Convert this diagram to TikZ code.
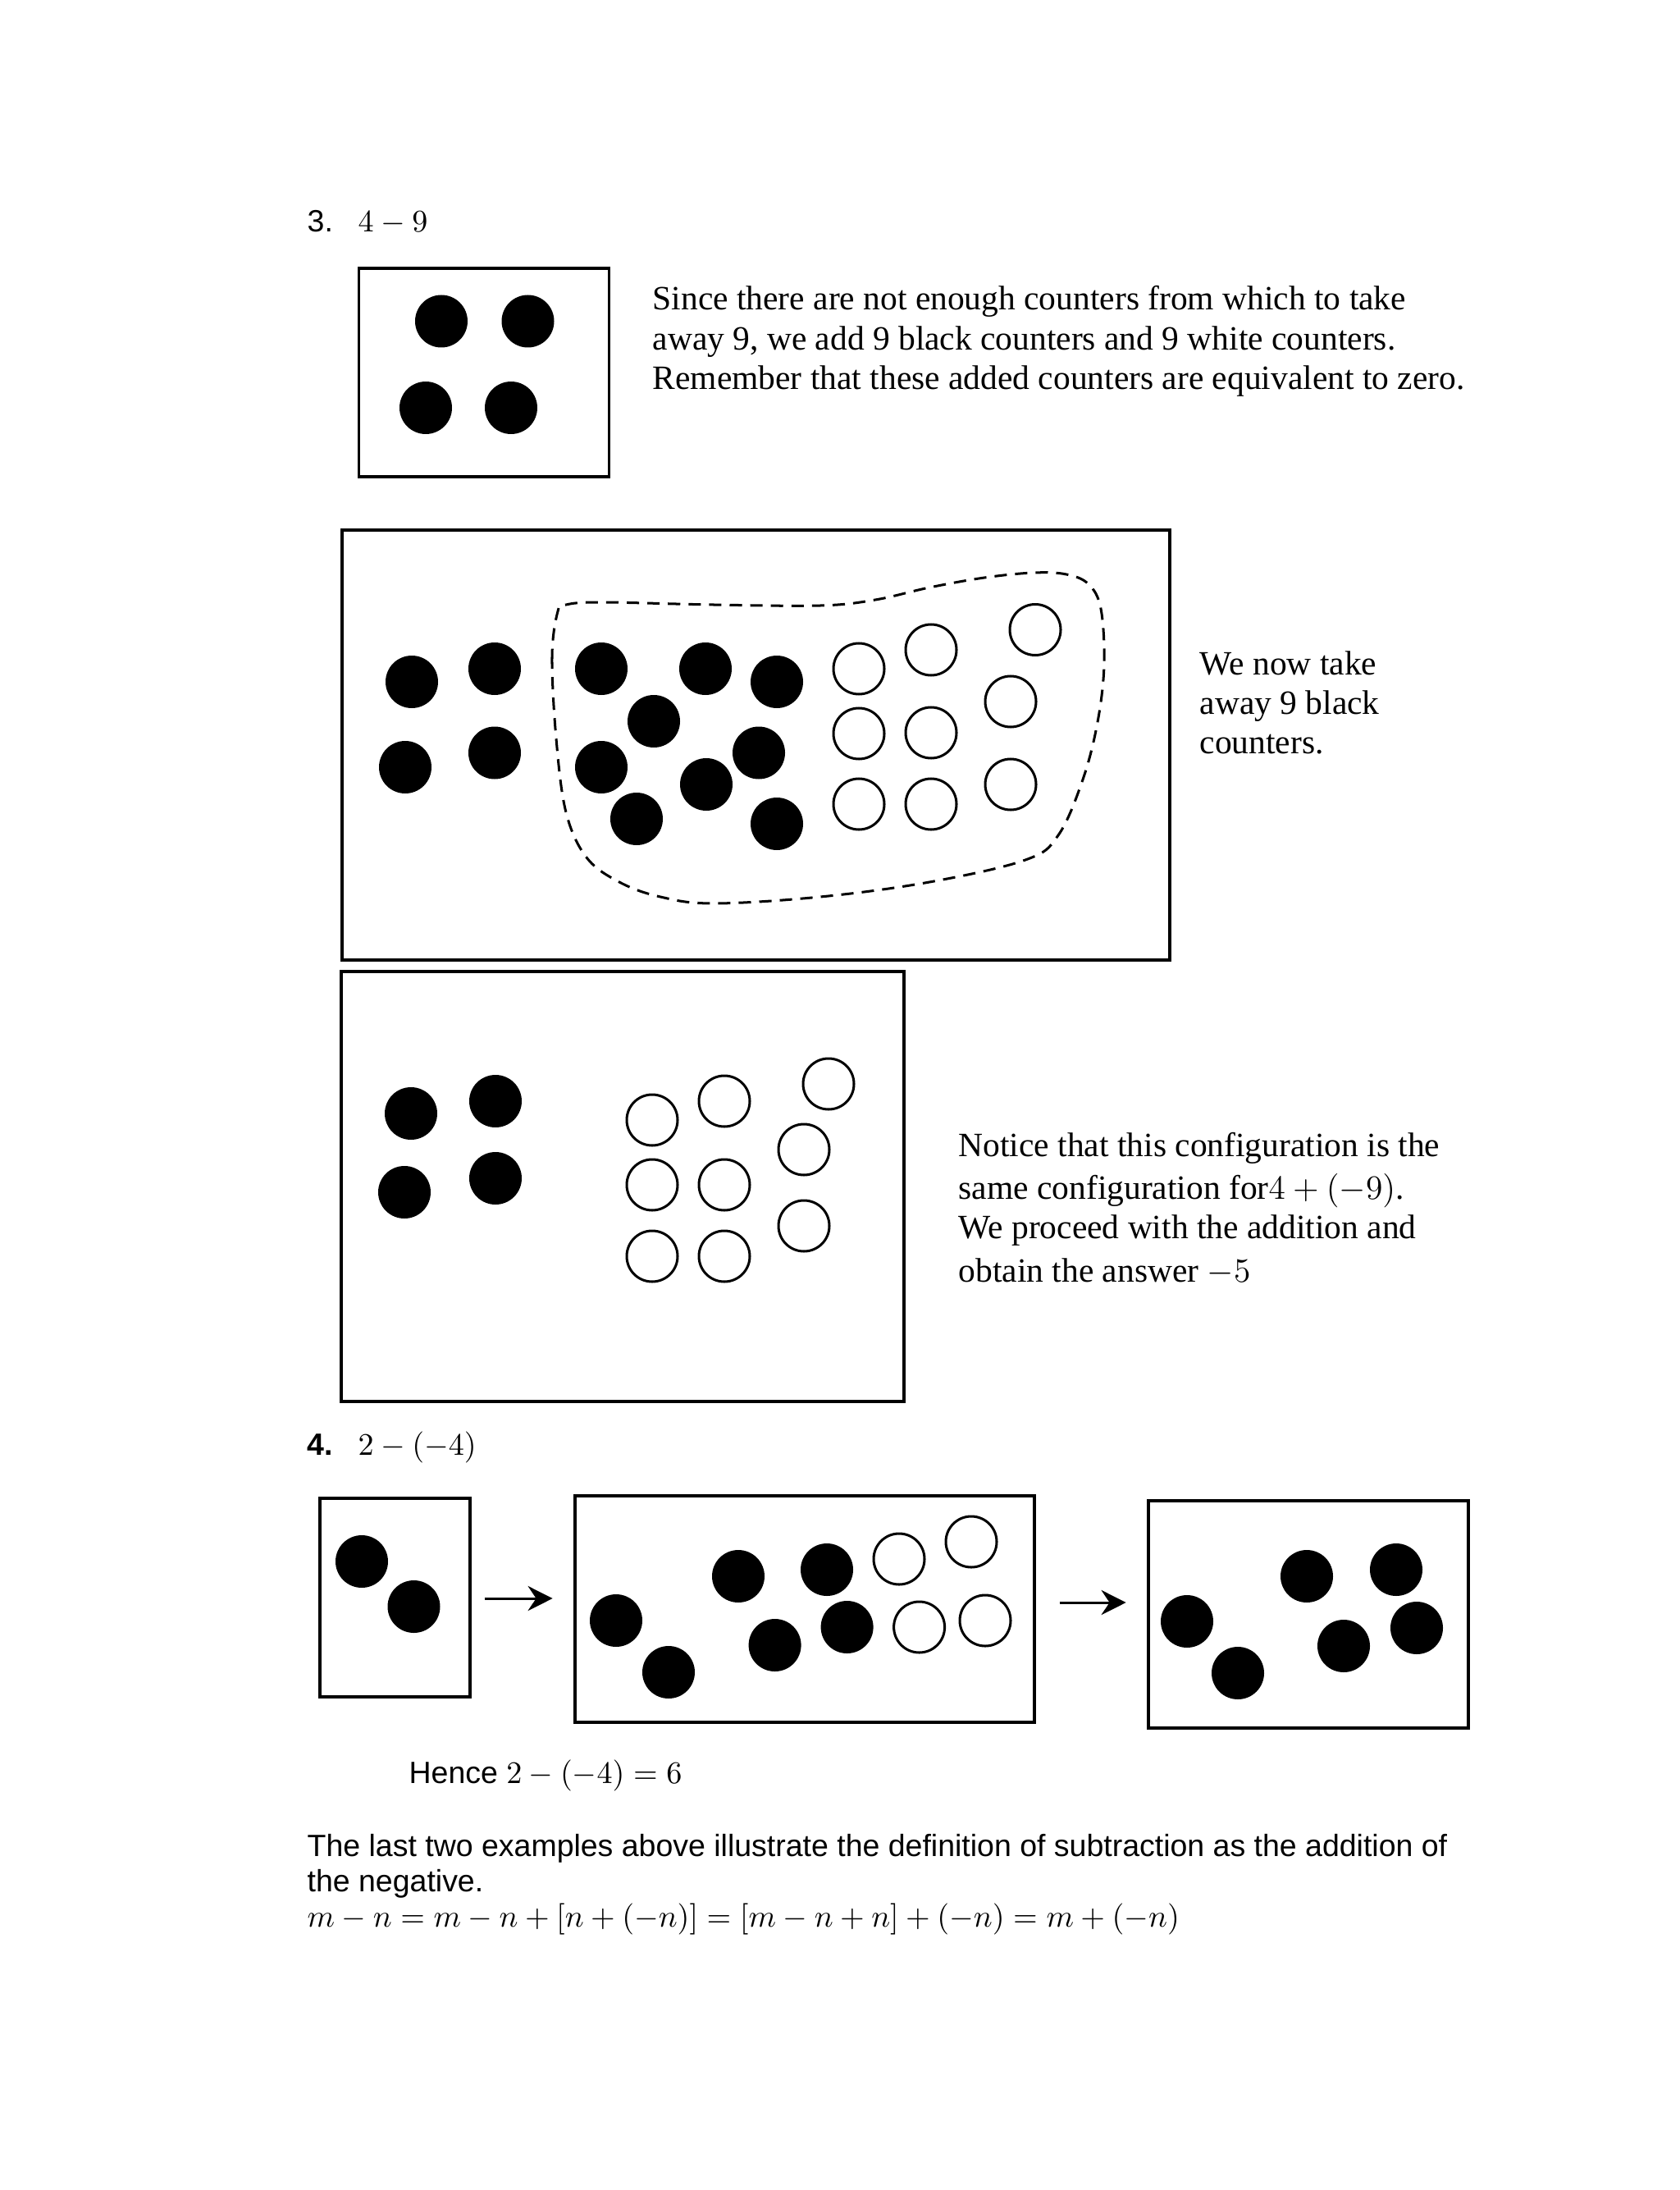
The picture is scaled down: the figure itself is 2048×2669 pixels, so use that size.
\RequirePackage{fix-cm}
\documentclass[tikz,border=0pt]{standalone}
\usepackage{fontspec}
\setmainfont{Liberation Serif}
\newfontfamily\arial{Liberation Sans}
\usetikzlibrary{arrows.meta}
\def\pxu{0.29883pt}
\tikzset{
  box/.style={draw, line width=1pt, inner sep=0pt},
  bc/.style={circle, fill=black, inner sep=0pt, minimum size=64*\pxu},
  wc/.style={circle, draw=black, line width=0.9pt, fill=white, inner sep=0pt, minimum size=62*\pxu},
  tr/.style={anchor=base west, inner sep=0pt, font=\fontsize{12.4}{14}\selectfont},
  ta/.style={anchor=base west, inner sep=0pt, font=\fontsize{11.2}{13}\selectfont\arial},
  tm/.style={anchor=base west, inner sep=0pt, font=\fontsize{11.4}{13}\selectfont},
  arr/.style={line width=0.9pt, -{Stealth[length=9pt,width=9pt,inset=3pt]}},
  zone/.style={dash pattern=on 4.5pt off 3pt, line width=0.9pt}
}
\begin{document}
\begin{tikzpicture}[x=0.29883pt, y=-0.29883pt]
\useasboundingbox[fill=white] (0,0) rectangle (2048,2669);

% ---------- Example 3 ----------
\node[ta] (h3) at (374,283) {3.};
\node[tm] (h3m) at (436,283) {$4-9$};

\node[box, minimum width=305*\pxu, minimum height=254*\pxu] (box1) at (590,454) {};
\foreach \x/\y [count=\i] in {538/391.5, 643.5/391.5, 519/497, 623/497}
  \node[bc] (a\i) at (\x,\y) {};

\node[tr] (p1a) at (795,378) {Since there are not enough counters from which to take};
\node[tr] (p1b) at (795,426.5) {away 9, we add 9 black counters and 9 white counters.};
\node[tr] (p1c) at (795,475) {Remember that these added counters are equivalent to zero.};

\node[box, minimum width=1009*\pxu, minimum height=524*\pxu] (box2) at (921.5,908) {};
\foreach \x/\y [count=\i] in {502/831, 603/815, 494/935, 603/917.5}
  \node[bc] (c\i) at (\x,\y) {};
\draw[zone] plot[smooth cycle, tension=0.6] coordinates {
  (680,745) (673,800) (678,900) (690,990) (715,1045) (755,1075) (805,1093)
  (870,1101) (1000,1093) (1133,1075) (1250,1048) (1290,1018) (1320,950)
  (1338,880) (1346,810) (1342,742) (1327,712) (1300,700) (1260,698)
  (1200,704) (1133,716) (1067,731) (1000,738) (870,737) (733,734) (690,737)};
\foreach \x/\y [count=\i] in {733/815, 860/815, 947/831, 797/879, 733/935, 925/917.5, 861/956, 776/998, 947/1004}
  \node[bc] (d\i) at (\x,\y) {};
\foreach \x/\y [count=\i] in {1047/815, 1135/792, 1262/767.5, 1232/855, 1047/894, 1135/893, 1047/980, 1135/980, 1232/956}
  \node[wc] (e\i) at (\x,\y) {};

\node[tr] (p2a) at (1462,822.5) {We now take};
\node[tr] (p2b) at (1462,870.5) {away 9 black};
\node[tr] (p2c) at (1462,918) {counters.};

\node[box, minimum width=686*\pxu, minimum height=524*\pxu] (box3) at (759,1446) {};
\foreach \x/\y [count=\i] in {501/1357, 604/1342, 493/1453, 604/1436}
  \node[bc] (f\i) at (\x,\y) {};
\foreach \x/\y [count=\i] in {795/1365, 883/1342, 1010/1321, 980/1401, 795/1444, 883/1444, 795/1531, 883/1531, 980/1494}
  \node[wc] (g\i) at (\x,\y) {};

\node[tr] (p3a) at (1168,1409) {Notice that this configuration is the};
\node[tr] (p3b) at (1168,1461) {same configuration for$4+(-9)$.};
\node[tr] (p3c) at (1168,1509) {We proceed with the addition and};
\node[tr] (p3d) at (1168,1562) {obtain the answer $-5$};

% ---------- Example 4 ----------
\node[ta] (h4) at (374,1773) {\bfseries 4.};
\node[tm] (h4m) at (436,1773) {$2-(-4)$};

\node[box, minimum width=183*\pxu, minimum height=242*\pxu] (bA) at (481.5,1947) {};
\node[box, minimum width=560*\pxu, minimum height=276*\pxu] (bB) at (981,1961) {};
\node[box, minimum width=390*\pxu, minimum height=277*\pxu] (bC) at (1595,1967.5) {};

\foreach \x/\y [count=\i] in {441/1903, 504.5/1958}
  \node[bc] (k\i) at (\x,\y) {};
\foreach \x/\y [count=\i] in {751/1975, 815/2038, 900/1921, 944.6/2005, 1008/1913, 1032.6/1983}
  \node[bc] (m\i) at (\x,\y) {};
\foreach \x/\y [count=\i] in {1096/1900, 1184/1879, 1120.6/1983, 1201/1975}
  \node[wc] (n\i) at (\x,\y) {};
\foreach \x/\y [count=\i] in {1447/1976, 1509/2039, 1593/1921, 1638/2006, 1702/1913, 1727/1984}
  \node[bc] (q\i) at (\x,\y) {};

\draw[arr] (bA.east) ++(16,1) -- ++(83,0);
\draw[arr] (bB.east) ++(29,-8) -- ++(81,0);

\node[ta] (hence) at (498,2173) {Hence {\fontsize{11.4}{13}\selectfont$2-(-4)=6$}};
\node[ta] (l1) at (374,2262.5) {The last two examples above illustrate the definition of subtraction as the addition of};
\node[ta] (l2) at (374,2305) {the negative.};
\node[tm] (l3) at (374,2348) {$m-n=m-n+[n+(-n)]=[m-n+n]+(-n)=m+(-n)$};
\end{tikzpicture}
\end{document}
